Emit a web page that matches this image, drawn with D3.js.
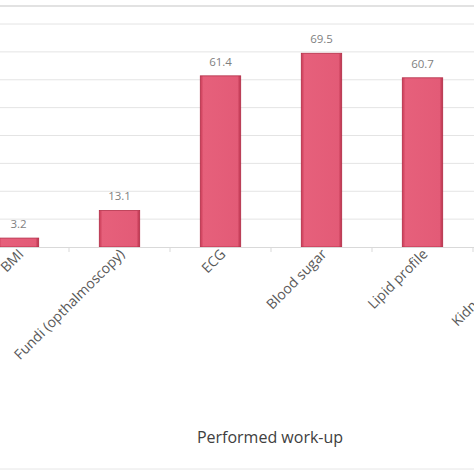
<!DOCTYPE html>
<html><head><meta charset="utf-8">
<script src="https://cdn.jsdelivr.net/npm/d3@7"></script>
<style>body{margin:0;background:#fff}</style>
</head><body>
<svg id="c" width="474" height="474"></svg>
<script>
// data (chart is cropped: first and last categories run off the edges)
const categories = ["BMI", "Fundi (opthalmoscopy)", "ECG", "Blood sugar", "Lipid profile", "Kidney function"];
const values = [3.2, 13.1, 61.4, 69.5, 60.7, 45];
const yTicks = [0, 10, 20, 30, 40, 50, 60, 70, 80];

const svg = d3.select("#c");
const x = d3.scaleBand().domain(categories).range([-32, 574]).paddingInner(0.6).paddingOuter(0.3);
const y = d3.scaleLinear().domain([0, 80]).range([247, 24]);

// frame lines
svg.append("line").attr("x1", 0).attr("x2", 474).attr("y1", 6).attr("y2", 6).attr("stroke", "#d9d9d9").attr("stroke-width", 1.5);
svg.append("line").attr("x1", 0).attr("x2", 474).attr("y1", 469).attr("y2", 469).attr("stroke", "#e6e6e6");

// grid
svg.selectAll(".grid").data(yTicks.slice(1)).enter().append("line")
    .attr("x1", 0).attr("x2", 474)
    .attr("y1", d => y(d)).attr("y2", d => y(d))
    .attr("stroke", "#e4e4e4");

const defs = svg.append("defs");
const g = defs.append("linearGradient").attr("id", "bg").attr("x1", 0).attr("x2", 1).attr("y1", 0).attr("y2", 0);
g.append("stop").attr("offset", "0%").attr("stop-color", "#c83a55");
g.append("stop").attr("offset", "8%").attr("stop-color", "#e6607b");
g.append("stop").attr("offset", "92%").attr("stop-color", "#e35b77");
g.append("stop").attr("offset", "100%").attr("stop-color", "#b8304a");

svg.selectAll(".bar").data(values).enter().append("rect")
    .attr("x", (d, i) => x(categories[i]))
    .attr("y", d => y(d))
    .attr("width", x.bandwidth())
    .attr("height", d => y(0) - y(d))
    .attr("fill", "url(#bg)")
    .attr("stroke", "#b32d47").attr("stroke-width", 0.8);

svg.selectAll(".val").data(values).enter().append("text")
    .text(d => d)
    .attr("x", (d, i) => x(categories[i]) + x.bandwidth() / 2)
    .attr("y", d => y(d) - 10)
    .attr("text-anchor", "middle")
    .attr("font-family", "Open Sans, sans-serif").attr("font-size", 11.5)
    .attr("fill", "#7f7f7f");

// x axis
const step = x.step();
const xAxis = svg.append("g").attr("transform", "translate(0,247)")
    .call(d3.axisBottom(x).tickSize(0).tickFormat(""));
xAxis.select(".domain").attr("stroke", "#d9d9d9");
svg.selectAll(".tk").data(categories).enter().append("line")
    .attr("x1", d => x(d) + x.bandwidth() / 2 + step / 2)
    .attr("x2", d => x(d) + x.bandwidth() / 2 + step / 2)
    .attr("y1", 247).attr("y2", 252).attr("stroke", "#d9d9d9");

svg.selectAll(".lab").data(categories).enter().append("text")
    .text(d => d)
    .attr("transform", d => `translate(${x(d) + x.bandwidth() / 2 + 6},${255}) rotate(-45)`)
    .attr("text-anchor", "end")
    .attr("font-family", "Open Sans, sans-serif").attr("font-size", 14)
    .attr("fill", "#595959");

svg.append("text").text("Performed work-up")
    .attr("x", 270).attr("y", 443).attr("text-anchor", "middle")
    .attr("font-family", "Open Sans, sans-serif").attr("font-size", 16)
    .attr("fill", "#404040");
</script>
</body></html>
